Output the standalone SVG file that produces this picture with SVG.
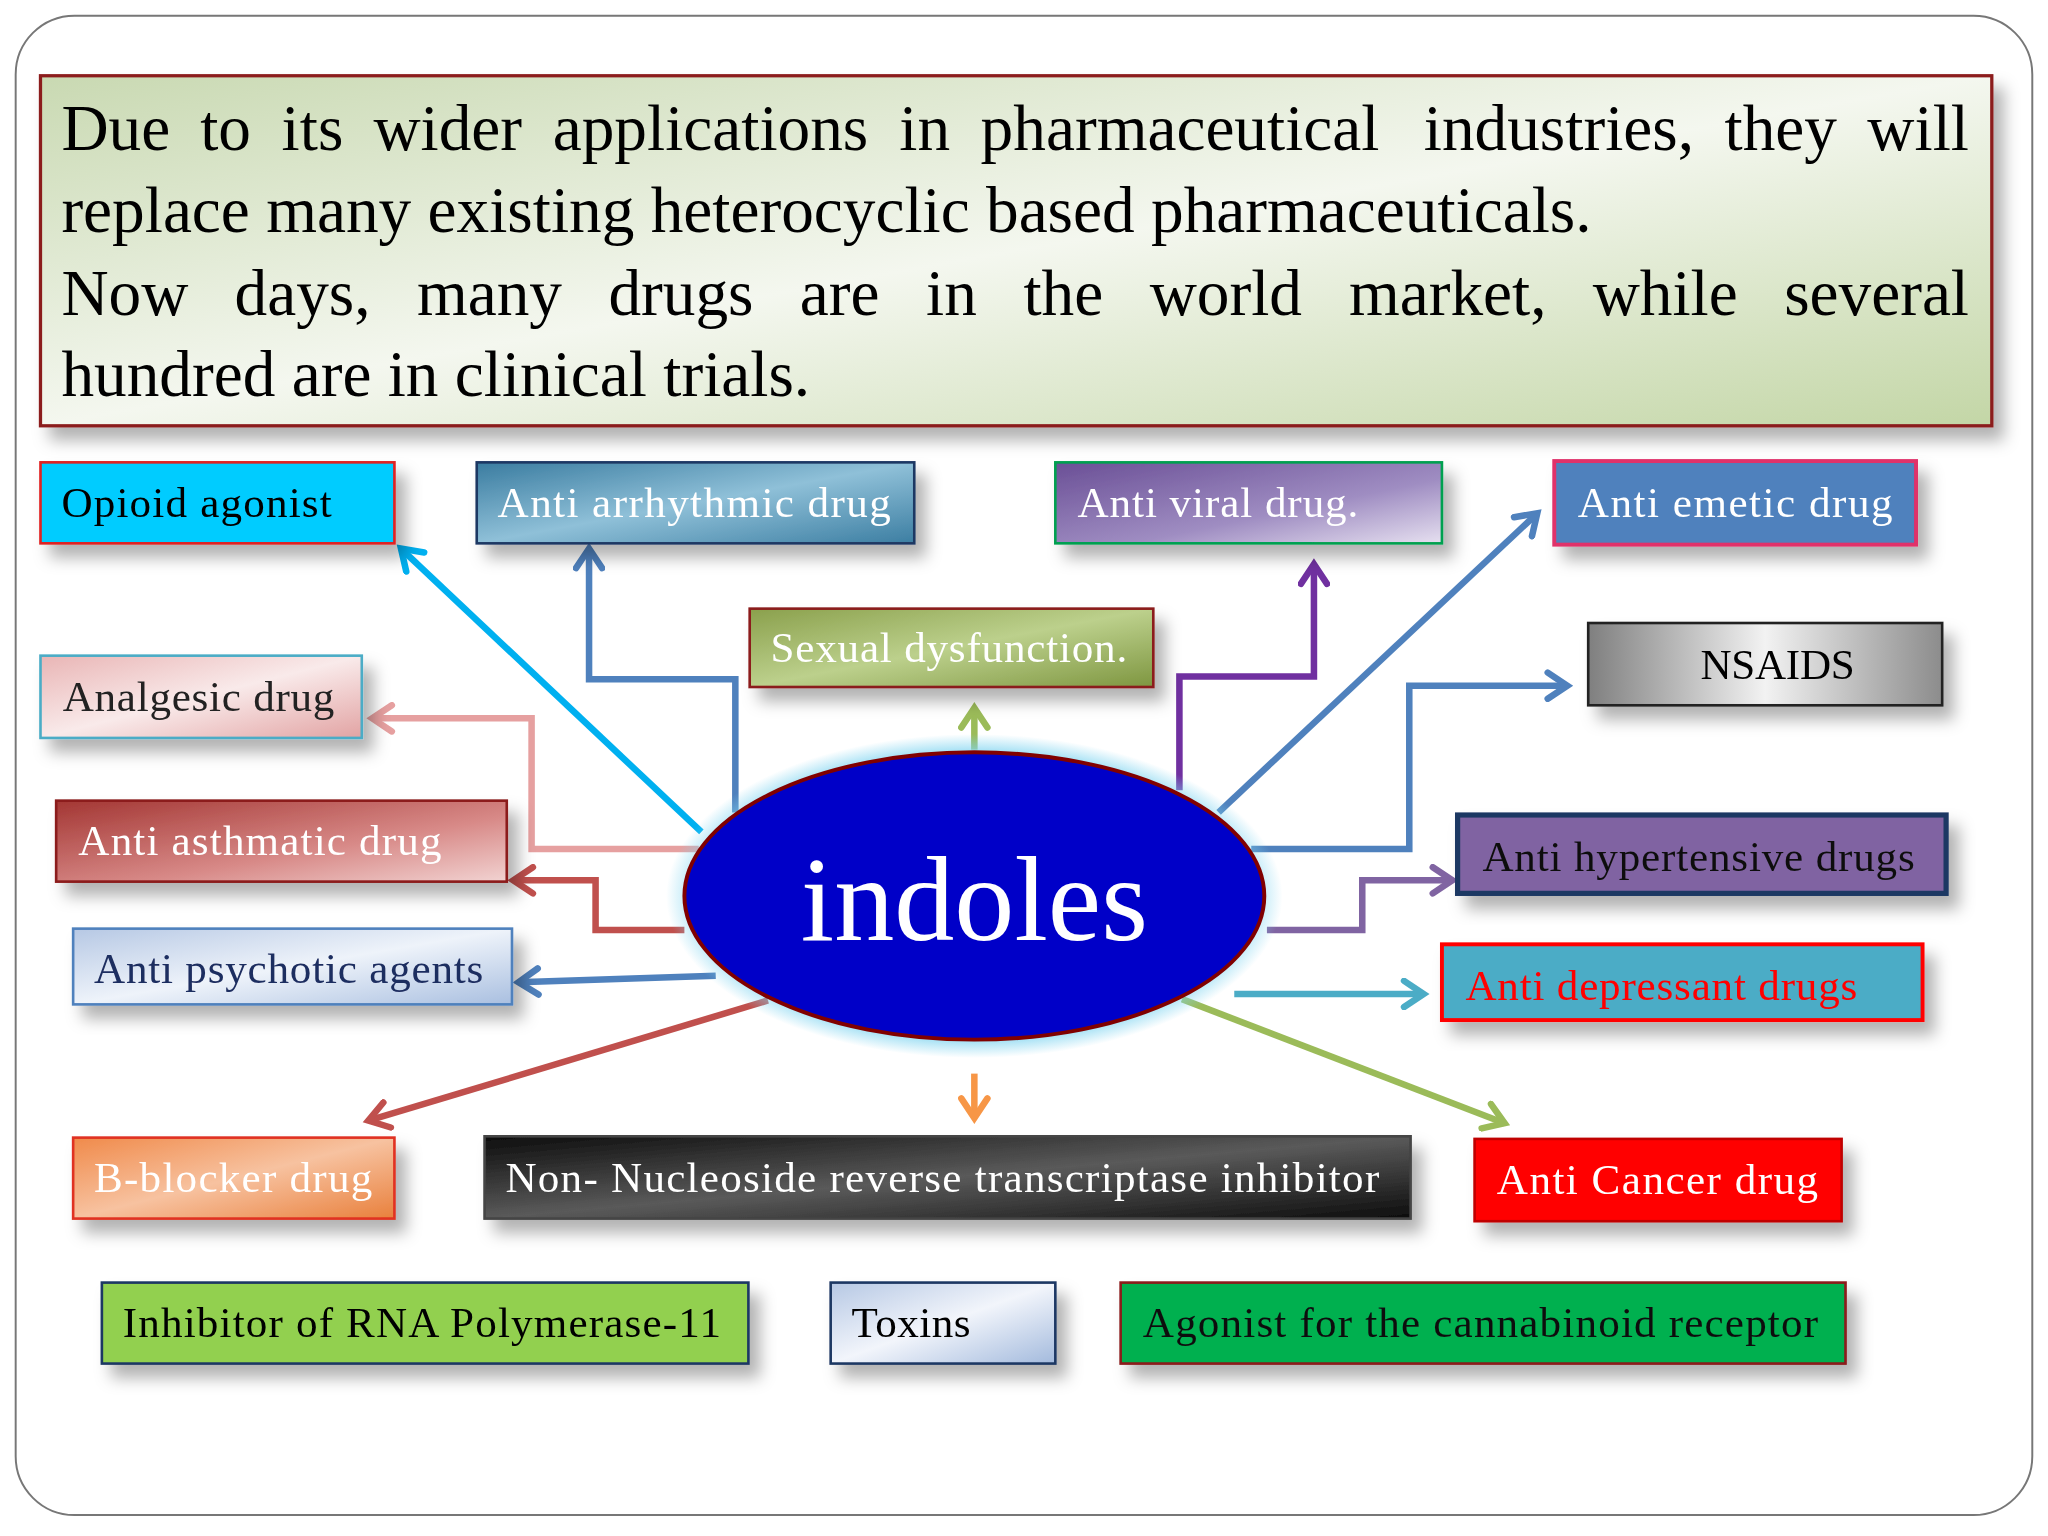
<svg xmlns="http://www.w3.org/2000/svg" width="2048" height="1536" viewBox="0 0 2048 1536">
<defs>
<style>
text{font-family:"Liberation Serif","DejaVu Serif",serif}
.lb{font-size:33px}
.w{fill:#fff}
.c{fill:none;stroke-width:5}
</style>
<linearGradient id="gTop" x1="0" y1="0" x2="1" y2="1"><stop offset="0" stop-color="#c9d9b2"/><stop offset="0.5" stop-color="#f4f7ef"/><stop offset="1" stop-color="#c3d6a6"/></linearGradient>
<linearGradient id="gArr" x1="0" y1="0" x2="1" y2="1"><stop offset="0" stop-color="#3a7ca0"/><stop offset="0.5" stop-color="#8fc0d8"/><stop offset="1" stop-color="#3c7ea2"/></linearGradient>
<linearGradient id="gVir" x1="0" y1="0" x2="1" y2="1"><stop offset="0" stop-color="#6a4f96"/><stop offset="0.6" stop-color="#9f8dc2"/><stop offset="1" stop-color="#e6e0f0"/></linearGradient>
<linearGradient id="gSex" x1="0" y1="0" x2="1" y2="1"><stop offset="0" stop-color="#8aa04c"/><stop offset="0.5" stop-color="#bcd08c"/><stop offset="1" stop-color="#7e9640"/></linearGradient>
<linearGradient id="gNs" x1="0" y1="0" x2="1" y2="0"><stop offset="0" stop-color="#7f7f7f"/><stop offset="0.5" stop-color="#f2f2f2"/><stop offset="1" stop-color="#8c8c8c"/></linearGradient>
<linearGradient id="gAn" x1="0" y1="0" x2="1" y2="1"><stop offset="0" stop-color="#e9b5b5"/><stop offset="0.5" stop-color="#f9eaea"/><stop offset="1" stop-color="#e2a3a3"/></linearGradient>
<linearGradient id="gAs" x1="0" y1="0" x2="1" y2="1"><stop offset="0" stop-color="#a33633"/><stop offset="0.6" stop-color="#d88a88"/><stop offset="1" stop-color="#f2d3d2"/></linearGradient>
<linearGradient id="gPs" x1="0" y1="0" x2="1" y2="1"><stop offset="0" stop-color="#b6c8e4"/><stop offset="0.5" stop-color="#eef3fa"/><stop offset="1" stop-color="#a9bfe0"/></linearGradient>
<linearGradient id="gBb" x1="0" y1="0" x2="1" y2="1"><stop offset="0" stop-color="#f08a4a"/><stop offset="0.5" stop-color="#f7c2a0"/><stop offset="1" stop-color="#e9803c"/></linearGradient>
<linearGradient id="gNn" x1="0" y1="0" x2="1" y2="1"><stop offset="0" stop-color="#0d0d0d"/><stop offset="0.5" stop-color="#5a5a5a"/><stop offset="1" stop-color="#0d0d0d"/></linearGradient>
<linearGradient id="gTx" x1="0" y1="0" x2="1" y2="1"><stop offset="0" stop-color="#b6c8e4"/><stop offset="0.5" stop-color="#f2f5fb"/><stop offset="1" stop-color="#a3badd"/></linearGradient>
<radialGradient id="glow"><stop offset="0.85" stop-color="#7fd4f0"/><stop offset="1" stop-color="#7fd4f0" stop-opacity="0"/></radialGradient>
<filter id="sh" x="-10%" y="-20%" width="130%" height="160%"><feDropShadow dx="8" dy="10" stdDeviation="6" flood-color="#000" flood-opacity="0.3"/></filter>
<marker id="mCy" viewBox="0 0 10 10" refX="8" refY="5" markerWidth="5" markerHeight="5" orient="auto"><path d="M2,1 L8,5 L2,9" fill="none" stroke="#00b0f0" stroke-width="2" stroke-linecap="round"/></marker>
<marker id="mBl" viewBox="0 0 10 10" refX="8" refY="5" markerWidth="5" markerHeight="5" orient="auto"><path d="M2,1 L8,5 L2,9" fill="none" stroke="#4f81bd" stroke-width="2" stroke-linecap="round"/></marker>
<marker id="mPk" viewBox="0 0 10 10" refX="8" refY="5" markerWidth="5" markerHeight="5" orient="auto"><path d="M2,1 L8,5 L2,9" fill="none" stroke="#e6a0a0" stroke-width="2" stroke-linecap="round"/></marker>
<marker id="mRd" viewBox="0 0 10 10" refX="8" refY="5" markerWidth="5" markerHeight="5" orient="auto"><path d="M2,1 L8,5 L2,9" fill="none" stroke="#c0504d" stroke-width="2" stroke-linecap="round"/></marker>
<marker id="mGr" viewBox="0 0 10 10" refX="8" refY="5" markerWidth="5" markerHeight="5" orient="auto"><path d="M2,1 L8,5 L2,9" fill="none" stroke="#9bbb59" stroke-width="2" stroke-linecap="round"/></marker>
<marker id="mOr" viewBox="0 0 10 10" refX="8" refY="5" markerWidth="5" markerHeight="5" orient="auto"><path d="M2,1 L8,5 L2,9" fill="none" stroke="#f79646" stroke-width="2" stroke-linecap="round"/></marker>
<marker id="mPu" viewBox="0 0 10 10" refX="8" refY="5" markerWidth="5" markerHeight="5" orient="auto"><path d="M2,1 L8,5 L2,9" fill="none" stroke="#7030a0" stroke-width="2" stroke-linecap="round"/></marker>
<marker id="mLp" viewBox="0 0 10 10" refX="8" refY="5" markerWidth="5" markerHeight="5" orient="auto"><path d="M2,1 L8,5 L2,9" fill="none" stroke="#8064a2" stroke-width="2" stroke-linecap="round"/></marker>
<marker id="mTe" viewBox="0 0 10 10" refX="8" refY="5" markerWidth="5" markerHeight="5" orient="auto"><path d="M2,1 L8,5 L2,9" fill="none" stroke="#4bacc6" stroke-width="2" stroke-linecap="round"/></marker>
</defs>
<rect width="2048" height="1536" fill="#fff"/>
<g transform="scale(1.3061)">
<rect x="12" y="12" width="1544" height="1148" rx="45" fill="#fff" stroke="#777" stroke-width="1.5"/>

<g id="intro" filter="url(#sh)">
<rect x="31" y="58" width="1494" height="268" fill="url(#gTop)" stroke="#8b1a1a" stroke-width="2.5"/>
<text font-size="50" fill="#000">
<tspan x="47" y="115">Due</tspan><tspan x="153.3" y="115">to</tspan><tspan x="215.6" y="115">its</tspan><tspan x="285.9" y="115">wider</tspan><tspan x="423.2" y="115">applications</tspan><tspan x="688.5" y="115">in</tspan><tspan x="750.8" y="115">pharmaceutical</tspan><tspan x="1090.1" y="115">industries,</tspan><tspan x="1320.4" y="115">they</tspan><tspan x="1429.7" y="115">will</tspan>
<tspan x="47" y="178">replace many existing heterocyclic based pharmaceuticals.</tspan>
<tspan x="47" y="241">Now</tspan><tspan x="179.6" y="241">days,</tspan><tspan x="319.2" y="241">many</tspan><tspan x="465.8" y="241">drugs</tspan><tspan x="612.4" y="241">are</tspan><tspan x="709" y="241">in</tspan><tspan x="783.6" y="241">the</tspan><tspan x="880.2" y="241">world</tspan><tspan x="1032.8" y="241">market,</tspan><tspan x="1219.4" y="241">while</tspan><tspan x="1366" y="241">several</tspan>
<tspan x="47" y="303">hundred are in clinical trials.</tspan>
</text>
</g>

<g id="connectors">
<path class="c" stroke="#00b0f0" d="M537,637 L307,420" marker-end="url(#mCy)"/>
<path class="c" stroke="#4f81bd" d="M563,622 V520 H451 V420" marker-end="url(#mBl)"/>
<path class="c" stroke="#e6a0a0" d="M535,650 H407 V550 H285" marker-end="url(#mPk)"/>
<path class="c" stroke="#c0504d" d="M524,712 H456 V674 H393" marker-end="url(#mRd)"/>
<path class="c" stroke="#4f81bd" d="M548,747 L397,752" marker-end="url(#mBl)"/>
<path class="c" stroke="#c0504d" d="M588,766 L282,858" marker-end="url(#mRd)"/>
<path class="c" stroke="#9bbb59" d="M746,574 V542" marker-end="url(#mGr)"/>
<path class="c" stroke="#f79646" d="M746,822 V856" marker-end="url(#mOr)"/>
<path class="c" stroke="#7030a0" d="M903,605 V518 H1006 V432" marker-end="url(#mPu)"/>
<path class="c" stroke="#4f81bd" d="M933,622 L1177,393" marker-end="url(#mBl)"/>
<path class="c" stroke="#4f81bd" d="M958,650 H1079 V525 H1200" marker-end="url(#mBl)"/>
<path class="c" stroke="#8064a2" d="M970,712 H1043 V674 H1112" marker-end="url(#mLp)"/>
<path class="c" stroke="#4bacc6" d="M945,761 H1090" marker-end="url(#mTe)"/>
<path class="c" stroke="#9bbb59" d="M905,765 L1152,860" marker-end="url(#mGr)"/>
</g>

<g id="indoles">
<ellipse cx="746" cy="686" rx="236" ry="124" fill="url(#glow)"/>
<ellipse cx="746" cy="686" rx="222" ry="110" fill="#0000c8" stroke="#800000" stroke-width="3"/>
<text x="746" y="720" font-size="92" fill="#fff" text-anchor="middle">indoles</text>
</g>

<g id="opioid" filter="url(#sh)"><rect x="31" y="354" width="271" height="62" fill="#00ccff" stroke="#e02020" stroke-width="2"/><text class="lb" x="47" y="396" textLength="207">Opioid agonist</text></g>
<g id="arrhythmic" filter="url(#sh)"><rect x="365" y="354" width="335" height="62" fill="url(#gArr)" stroke="#1f3864" stroke-width="2"/><text class="lb w" x="381" y="396" textLength="301">Anti arrhythmic drug</text></g>
<g id="viral" filter="url(#sh)"><rect x="808" y="354" width="296" height="62" fill="url(#gVir)" stroke="#00a050" stroke-width="2"/><text class="lb w" x="825" y="396" textLength="215">Anti viral drug.</text></g>
<g id="emetic" filter="url(#sh)"><rect x="1190" y="353" width="277" height="64" fill="#4f81bd" stroke="#e0306a" stroke-width="3"/><text class="lb w" x="1208" y="396" textLength="241">Anti emetic drug</text></g>
<g id="sexual" filter="url(#sh)"><rect x="574" y="466" width="309" height="60" fill="url(#gSex)" stroke="#8b1a1a" stroke-width="2"/><text class="lb w" x="590" y="507" textLength="273">Sexual dysfunction.</text></g>
<g id="nsaids" filter="url(#sh)"><rect x="1216" y="477" width="271" height="63" fill="url(#gNs)" stroke="#222" stroke-width="2"/><text class="lb" x="1302" y="520" textLength="118">NSAIDS</text></g>
<g id="analgesic" filter="url(#sh)"><rect x="31" y="502" width="246" height="63" fill="url(#gAn)" stroke="#4bacc6" stroke-width="2"/><text class="lb" x="48" y="544" fill="#222" textLength="208">Analgesic drug</text></g>
<g id="asthmatic" filter="url(#sh)"><rect x="43" y="613" width="345" height="62" fill="url(#gAs)" stroke="#8b1a1a" stroke-width="2"/><text class="lb w" x="60" y="655" textLength="278">Anti asthmatic drug</text></g>
<g id="hypertensive" filter="url(#sh)"><rect x="1116" y="624" width="374" height="60" fill="#8064a2" stroke="#1f3864" stroke-width="4"/><text class="lb" x="1135" y="667" fill="#111" textLength="331">Anti hypertensive drugs</text></g>
<g id="psychotic" filter="url(#sh)"><rect x="56" y="711" width="336" height="58" fill="url(#gPs)" stroke="#4f81bd" stroke-width="2"/><text class="lb" x="72" y="753" fill="#1f2d60" textLength="298">Anti psychotic agents</text></g>
<g id="depressant" filter="url(#sh)"><rect x="1104" y="723" width="368" height="58" fill="#4bacc6" stroke="#ff0000" stroke-width="3"/><text class="lb" x="1122" y="766" fill="#ff0000" textLength="300">Anti depressant drugs</text></g>
<g id="bblocker" filter="url(#sh)"><rect x="56" y="871" width="246" height="62" fill="url(#gBb)" stroke="#e03020" stroke-width="2"/><text class="lb w" x="72" y="913" textLength="213">B-blocker drug</text></g>
<g id="nnrti" filter="url(#sh)"><rect x="371" y="870" width="709" height="63" fill="url(#gNn)" stroke="#444" stroke-width="2"/><text class="lb w" x="387" y="913" textLength="669">Non- Nucleoside reverse transcriptase inhibitor</text></g>
<g id="cancer" filter="url(#sh)"><rect x="1129" y="872" width="281" height="63" fill="#ff0000" stroke="#c00000" stroke-width="2"/><text class="lb w" x="1146" y="914" textLength="246">Anti Cancer drug</text></g>
<g id="rnapol" filter="url(#sh)"><rect x="78" y="982" width="495" height="62" fill="#92d050" stroke="#1f3864" stroke-width="2"/><text class="lb" x="94" y="1024" textLength="458">Inhibitor of RNA Polymerase-11</text></g>
<g id="toxins" filter="url(#sh)"><rect x="636" y="982" width="172" height="62" fill="url(#gTx)" stroke="#1f3864" stroke-width="2"/><text class="lb" x="652" y="1024" textLength="91">Toxins</text></g>
<g id="cannabinoid" filter="url(#sh)"><rect x="858" y="982" width="555" height="62" fill="#00b050" stroke="#8b1a1a" stroke-width="2"/><text class="lb" x="875" y="1024" fill="#111" textLength="517">Agonist for the cannabinoid receptor</text></g>
</g>
</svg>
